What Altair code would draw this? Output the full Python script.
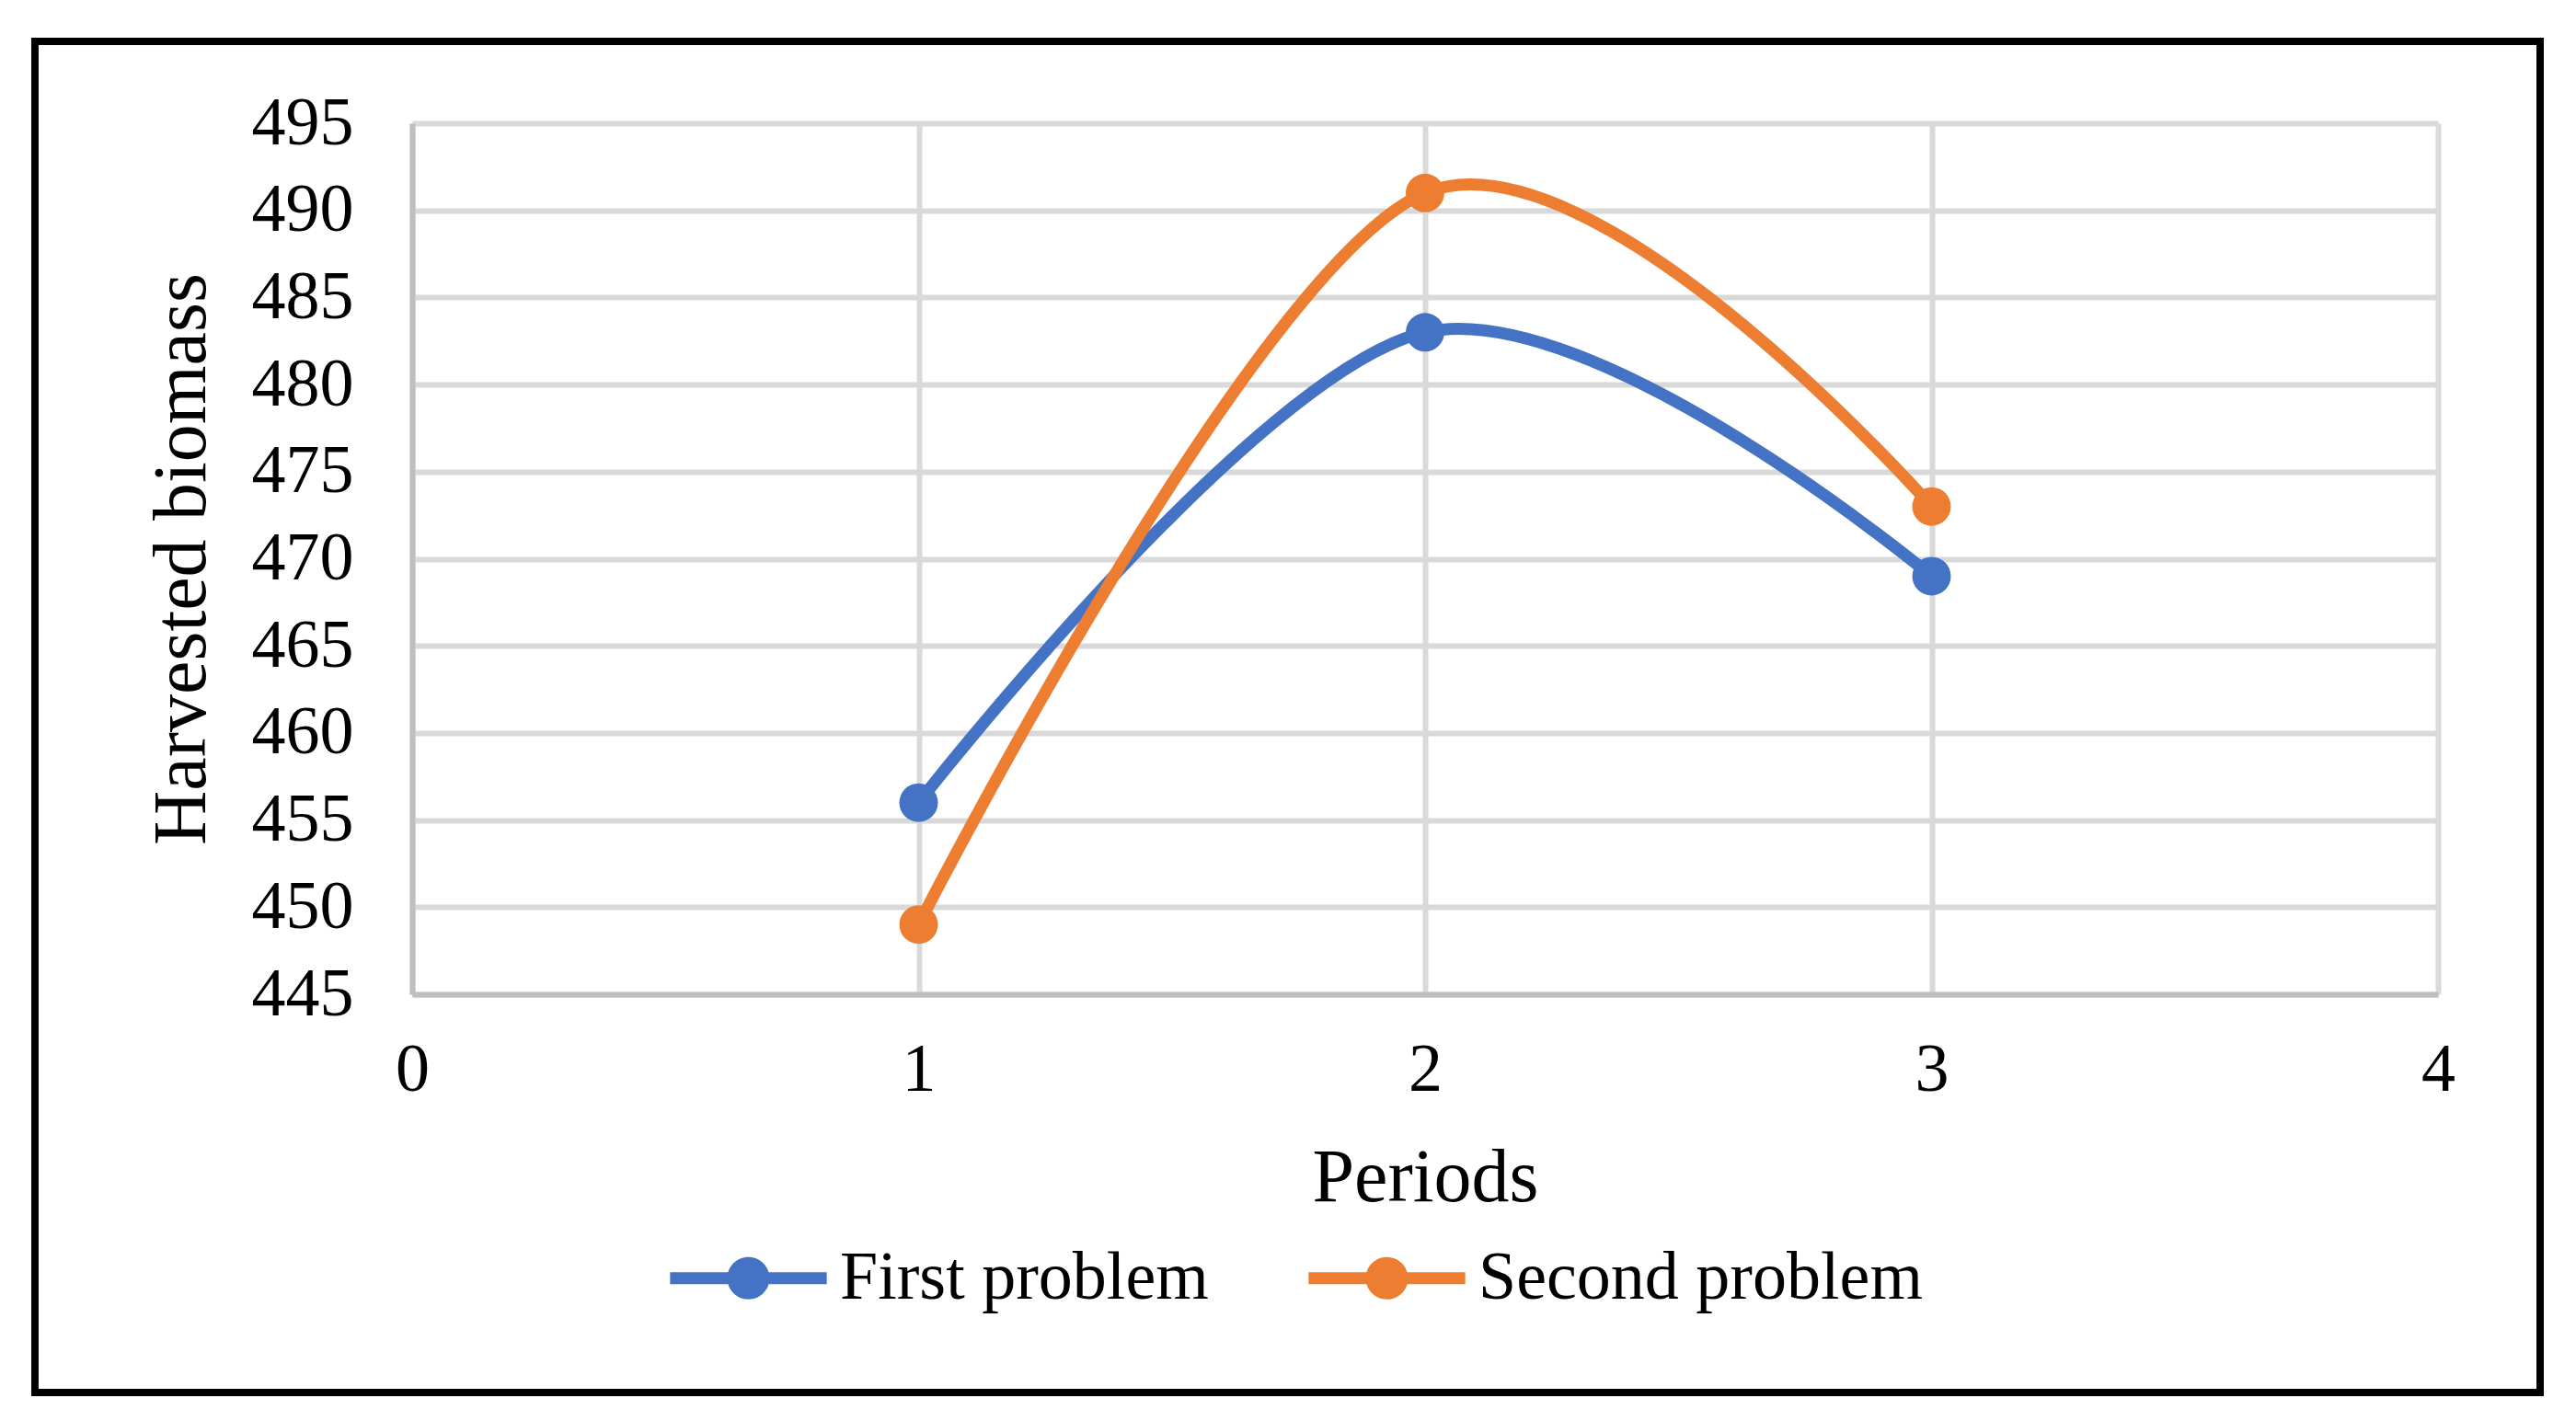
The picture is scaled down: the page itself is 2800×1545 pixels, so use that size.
import altair as alt
import pandas as pd

periods = [1, 2, 3]
first_problem = [456, 483, 469]
second_problem = [449, 491, 473]
series_names = ["First problem", "Second problem"]
series_colors = ["#4472C4", "#ED7D31"]
x_ticks = [0, 1, 2, 3, 4]
y_ticks = [445, 450, 455, 460, 465, 470, 475, 480, 485, 490, 495]

rows = []
for name, vals in zip(series_names, [first_problem, second_problem]):
    for p, v in zip(periods, vals):
        rows.append({"Period": p, "Biomass": v, "Series": name})
df = pd.DataFrame(rows)

FONT = "Liberation Serif"
W, H = 2202, 947

x_enc = alt.X("Period:Q",
              scale=alt.Scale(domain=[0, 4], nice=False, zero=False),
              axis=alt.Axis(values=x_ticks, format="d", title="Periods",
                            grid=True, ticks=False, labelPadding=46,
                            labelFlush=False, titlePadding=40))
y_enc = alt.Y("Biomass:Q",
              scale=alt.Scale(domain=[445, 495], nice=False, zero=False),
              axis=alt.Axis(values=y_ticks, format="d", title="Harvested biomass",
                            grid=True, ticks=False, labelPadding=64,
                            labelFlush=False, titlePadding=34))
color_scale = alt.Scale(domain=series_names, range=series_colors)

symbol_path = ("M -1 -0.075 L 1 -0.075 L 1 0.075 L -1 0.075 Z "
               "M -0.27 0 A 0.27 0.27 0 1 1 0.27 0 A 0.27 0.27 0 1 1 -0.27 0 Z")

base = alt.Chart(df)

lines = base.mark_line(interpolate="cardinal", strokeWidth=13, strokeCap="round").encode(
    x=x_enc, y=y_enc,
    color=alt.Color("Series:N", scale=color_scale, legend=None),
    detail="Series:N",
)

points = base.mark_circle(size=1760, opacity=1).encode(
    x=x_enc, y=y_enc,
    color=alt.Color("Series:N", scale=color_scale,
                    legend=alt.Legend(title=None, orient="none", direction="horizontal",
                                      legendX=280, legendY=1170,
                                      symbolType=symbol_path, symbolSize=29000,
                                      symbolStrokeWidth=0, symbolOpacity=1,
                                      labelFont=FONT, labelFontSize=74,
                                      labelColor="black", labelOffset=14,
                                      columnPadding=108, padding=0,
                                      labelLimit=1000)),
)

border = alt.Chart(pd.DataFrame({"a": [0]})).mark_rect(
    fillOpacity=0, stroke="black", strokeWidth=8, clip=False
).encode(x=alt.value(-410), x2=alt.value(2313), y=alt.value(-89), y2=alt.value(1380))

chart = alt.layer(lines, points, border).resolve_legend(color="independent").properties(
    width=W, height=H,
    autosize=alt.AutoSizeParams(type="none"),
    padding={"left": 440, "top": 126, "right": 130, "bottom": 440},
).configure_view(stroke=None).configure_axis(
    labelFont=FONT, labelFontSize=74, labelColor="black",
    titleFont=FONT, titleFontSize=82, titleColor="black", titleFontWeight="normal",
    gridColor="#D9D9D9", gridWidth=6,
    domainColor="#BFBFBF", domainWidth=6,
)

chart.save("out.html", embed_options={"renderer": "svg", "actions": False})
